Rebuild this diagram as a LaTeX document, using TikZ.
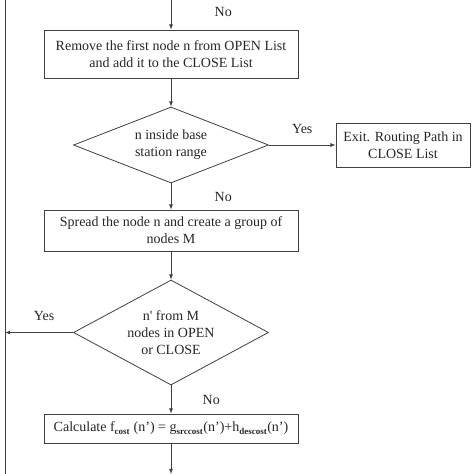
\documentclass[tikz,border=0pt]{standalone}
\usepackage{fontspec}
\setmainfont{Liberation Serif}
\usetikzlibrary{shapes.geometric}

\begin{document}
\begin{tikzpicture}[auto, x=1pt, y=-1pt, >=latex, color=black!75, line width=0.8pt,
  every node/.style={font=\fontsize{14}{17}\selectfont, text=black!85},
  box/.style={draw, rectangle, align=center, inner sep=0pt, minimum width=254pt},
  test/.style={draw, diamond, align=center, inner sep=0pt, minimum width=195pt}]
  \useasboundingbox (0,0) rectangle (474,474);

  \coordinate (top) at (171, 0);
  \coordinate (bot) at (171, 474);
  \coordinate (lt) at (5, 0);
  \coordinate (lb) at (5, 474);
  \coordinate (lyes) at (5, 332.5);

  \node[box, minimum height=48pt] (remove) at (171, 54) {Remove the first node n from OPEN List\\and add it to the CLOSE List};
  \node[test, aspect=2.57, minimum height=76pt] (inside) at (171, 145) {n inside base\\station range};
  \node[box, minimum width=134pt, minimum height=44pt] (exit) at (403, 145) {Exit. Routing Path in\\CLOSE List};
  \node[box, minimum height=41pt] (spread) at (171, 230.5) {Spread the node n and create a group of\\nodes M};
  \node[test, aspect=1.86, minimum height=105pt] (inlist) at (171, 332.5) {n\textquotesingle\ from M\\nodes in OPEN\\or CLOSE};
  \node[box, minimum height=29pt] (calc) at (171, 428.5) {Calculate f\textsubscript{\bfseries\small cost} (n’) = g\textsubscript{\bfseries\small srccost}(n’)+h\textsubscript{\bfseries\small descost}(n’)};

  \draw (lt) -- (lb);
  \draw[->] (top) to node[right=40pt, yshift=3pt] {No} (remove);
  \draw[->] (remove) to (inside);
  \draw[->] (inside) to node[above=8pt] {Yes} (exit);
  \draw[->] (inside) to node[right=40pt] {No} (spread);
  \draw[->] (spread) to (inlist);
  \draw[->] (inlist) to node[above=8pt, xshift=5pt] {Yes} (lyes);
  \draw[->] (inlist) to node[right=28pt] {No} (calc);
  \draw[->] (calc) to (bot);

\end{tikzpicture}
\end{document}
